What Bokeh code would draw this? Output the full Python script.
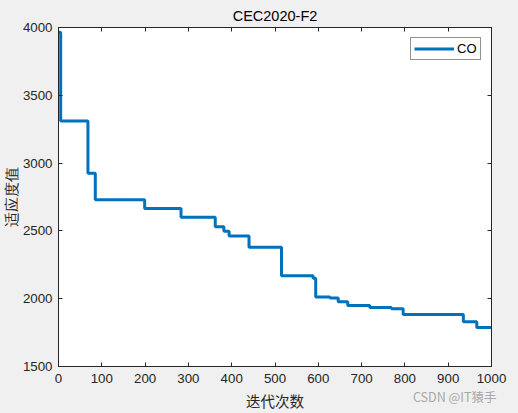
import numpy as np
from bokeh.plotting import figure
from bokeh.models import Range1d, LinearAxis, FixedTicker, Legend, LegendItem
from bokeh.embed import file_html
from bokeh.resources import INLINE

# ---- data ----
title_text = "CEC2020-F2"
x_label = "迭代次数"
y_label = "适应度值"
series_name = "CO"
watermark = "CSDN @IT猿手"

# iteration at which each best-so-far value starts (step curve)
iters = [1, 5, 68, 85, 199, 283, 362, 382, 394, 440, 515, 588, 594, 627, 646,
         668, 719, 769, 796, 935, 966, 1000]
fitness = [3965, 3310, 2925, 2730, 2665, 2600, 2530, 2498, 2463, 2380, 2170,
           2150, 2012, 2005, 1978, 1950, 1936, 1926, 1884, 1830, 1787, 1787]

x_ticks = [0, 100, 200, 300, 400, 500, 600, 700, 800, 900, 1000]
y_ticks = [1500, 2000, 2500, 3000, 3500, 4000]

# ---- figure ----
AX = "#262626"
W, H = 518, 413
p = figure(width=W, height=H, output_backend="svg", toolbar_location=None,
           x_range=Range1d(0, 1000), y_range=Range1d(1500, 4000),
           min_border_left=58, min_border_right=27, min_border_top=27,
           min_border_bottom=46)
p.border_fill_color = "#f0f0f0"
p.background_fill_color = "white"
p.outline_line_color = AX
p.xgrid.visible = False
p.ygrid.visible = False

p.title.text = title_text
p.title.align = "center"
p.title.text_font = "Liberation Sans"
p.title.text_font_size = "14.5px"
p.title.text_font_style = "normal"
p.title.text_color = "black"
p.title.standoff = 8

tick_font = "Liberation Sans"
for ax, ticks in ((p.xaxis[0], x_ticks), (p.yaxis[0], y_ticks)):
    ax.ticker = FixedTicker(ticks=ticks)
    ax.axis_line_color = AX
    ax.major_tick_line_color = AX
    ax.major_tick_in = 4
    ax.major_tick_out = 0
    ax.minor_tick_line_color = None
    ax.major_label_text_color = AX
    ax.major_label_text_font = tick_font
    ax.major_label_text_font_size = "13.3px"
    ax.axis_label_text_font_size = "14.5px"
    ax.axis_label_text_font_style = "normal"
    ax.axis_label_text_color = AX
p.xaxis[0].major_label_standoff = 7
p.yaxis[0].major_label_standoff = 6
p.xaxis[0].axis_label = x_label
p.yaxis[0].axis_label = y_label
p.xaxis[0].axis_label_text_font = "Noto Sans CJK SC"
p.yaxis[0].axis_label_text_font = "Liberation Sans"
p.xaxis[0].axis_label_standoff = 4
p.yaxis[0].axis_label_standoff = 0

# box axes (top / right) with inward ticks, no labels
top_ax = LinearAxis(ticker=FixedTicker(ticks=x_ticks))
right_ax = LinearAxis(ticker=FixedTicker(ticks=y_ticks))
for ax in (top_ax, right_ax):
    ax.axis_line_color = AX
    ax.major_tick_line_color = AX
    ax.major_tick_in = 4
    ax.major_tick_out = 0
    ax.minor_tick_line_color = None
    ax.major_label_text_color = None
    ax.major_label_text_font_size = "1px"
    ax.major_label_standoff = 0
p.add_layout(top_ax, "above")
p.add_layout(right_ax, "right")

# watermark, drawn as the only label of a bare extra axis below
wm_x = 915
wm_ax = LinearAxis(ticker=FixedTicker(ticks=[wm_x]),
                   major_label_overrides={wm_x: watermark})
wm_ax.axis_line_color = None
wm_ax.major_tick_line_color = None
wm_ax.minor_tick_line_color = None
wm_ax.major_tick_in = 0
wm_ax.major_tick_out = 0
wm_ax.major_label_standoff = -27
wm_ax.major_label_text_font = "Noto Sans CJK SC"
wm_ax.major_label_text_font_size = "12.5px"
wm_ax.major_label_text_color = "#a8a8a8"
p.add_layout(wm_ax, "below")

r = p.step(x=iters, y=fitness, mode="after", line_color="#0072BD",
           line_width=3)

legend = Legend(items=[LegendItem(label=series_name, renderers=[r])],
                location="top_right")
legend.margin = 10
legend.padding = 3
legend.spacing = 0
legend.glyph_width = 40
legend.glyph_height = 13
legend.label_height = 13
legend.label_standoff = 3
legend.label_text_font = tick_font
legend.label_text_font_size = "13px"
legend.label_text_color = "black"
legend.border_line_color = AX
legend.border_line_width = 1
legend.background_fill_color = "white"
legend.background_fill_alpha = 1
p.add_layout(legend)

html = file_html(p, INLINE)
html = html.replace("</head>",
                    "<style>html,body{background:#f0f0f0;overflow:hidden;}</style></head>")
open("out.html", "w").write(html)
